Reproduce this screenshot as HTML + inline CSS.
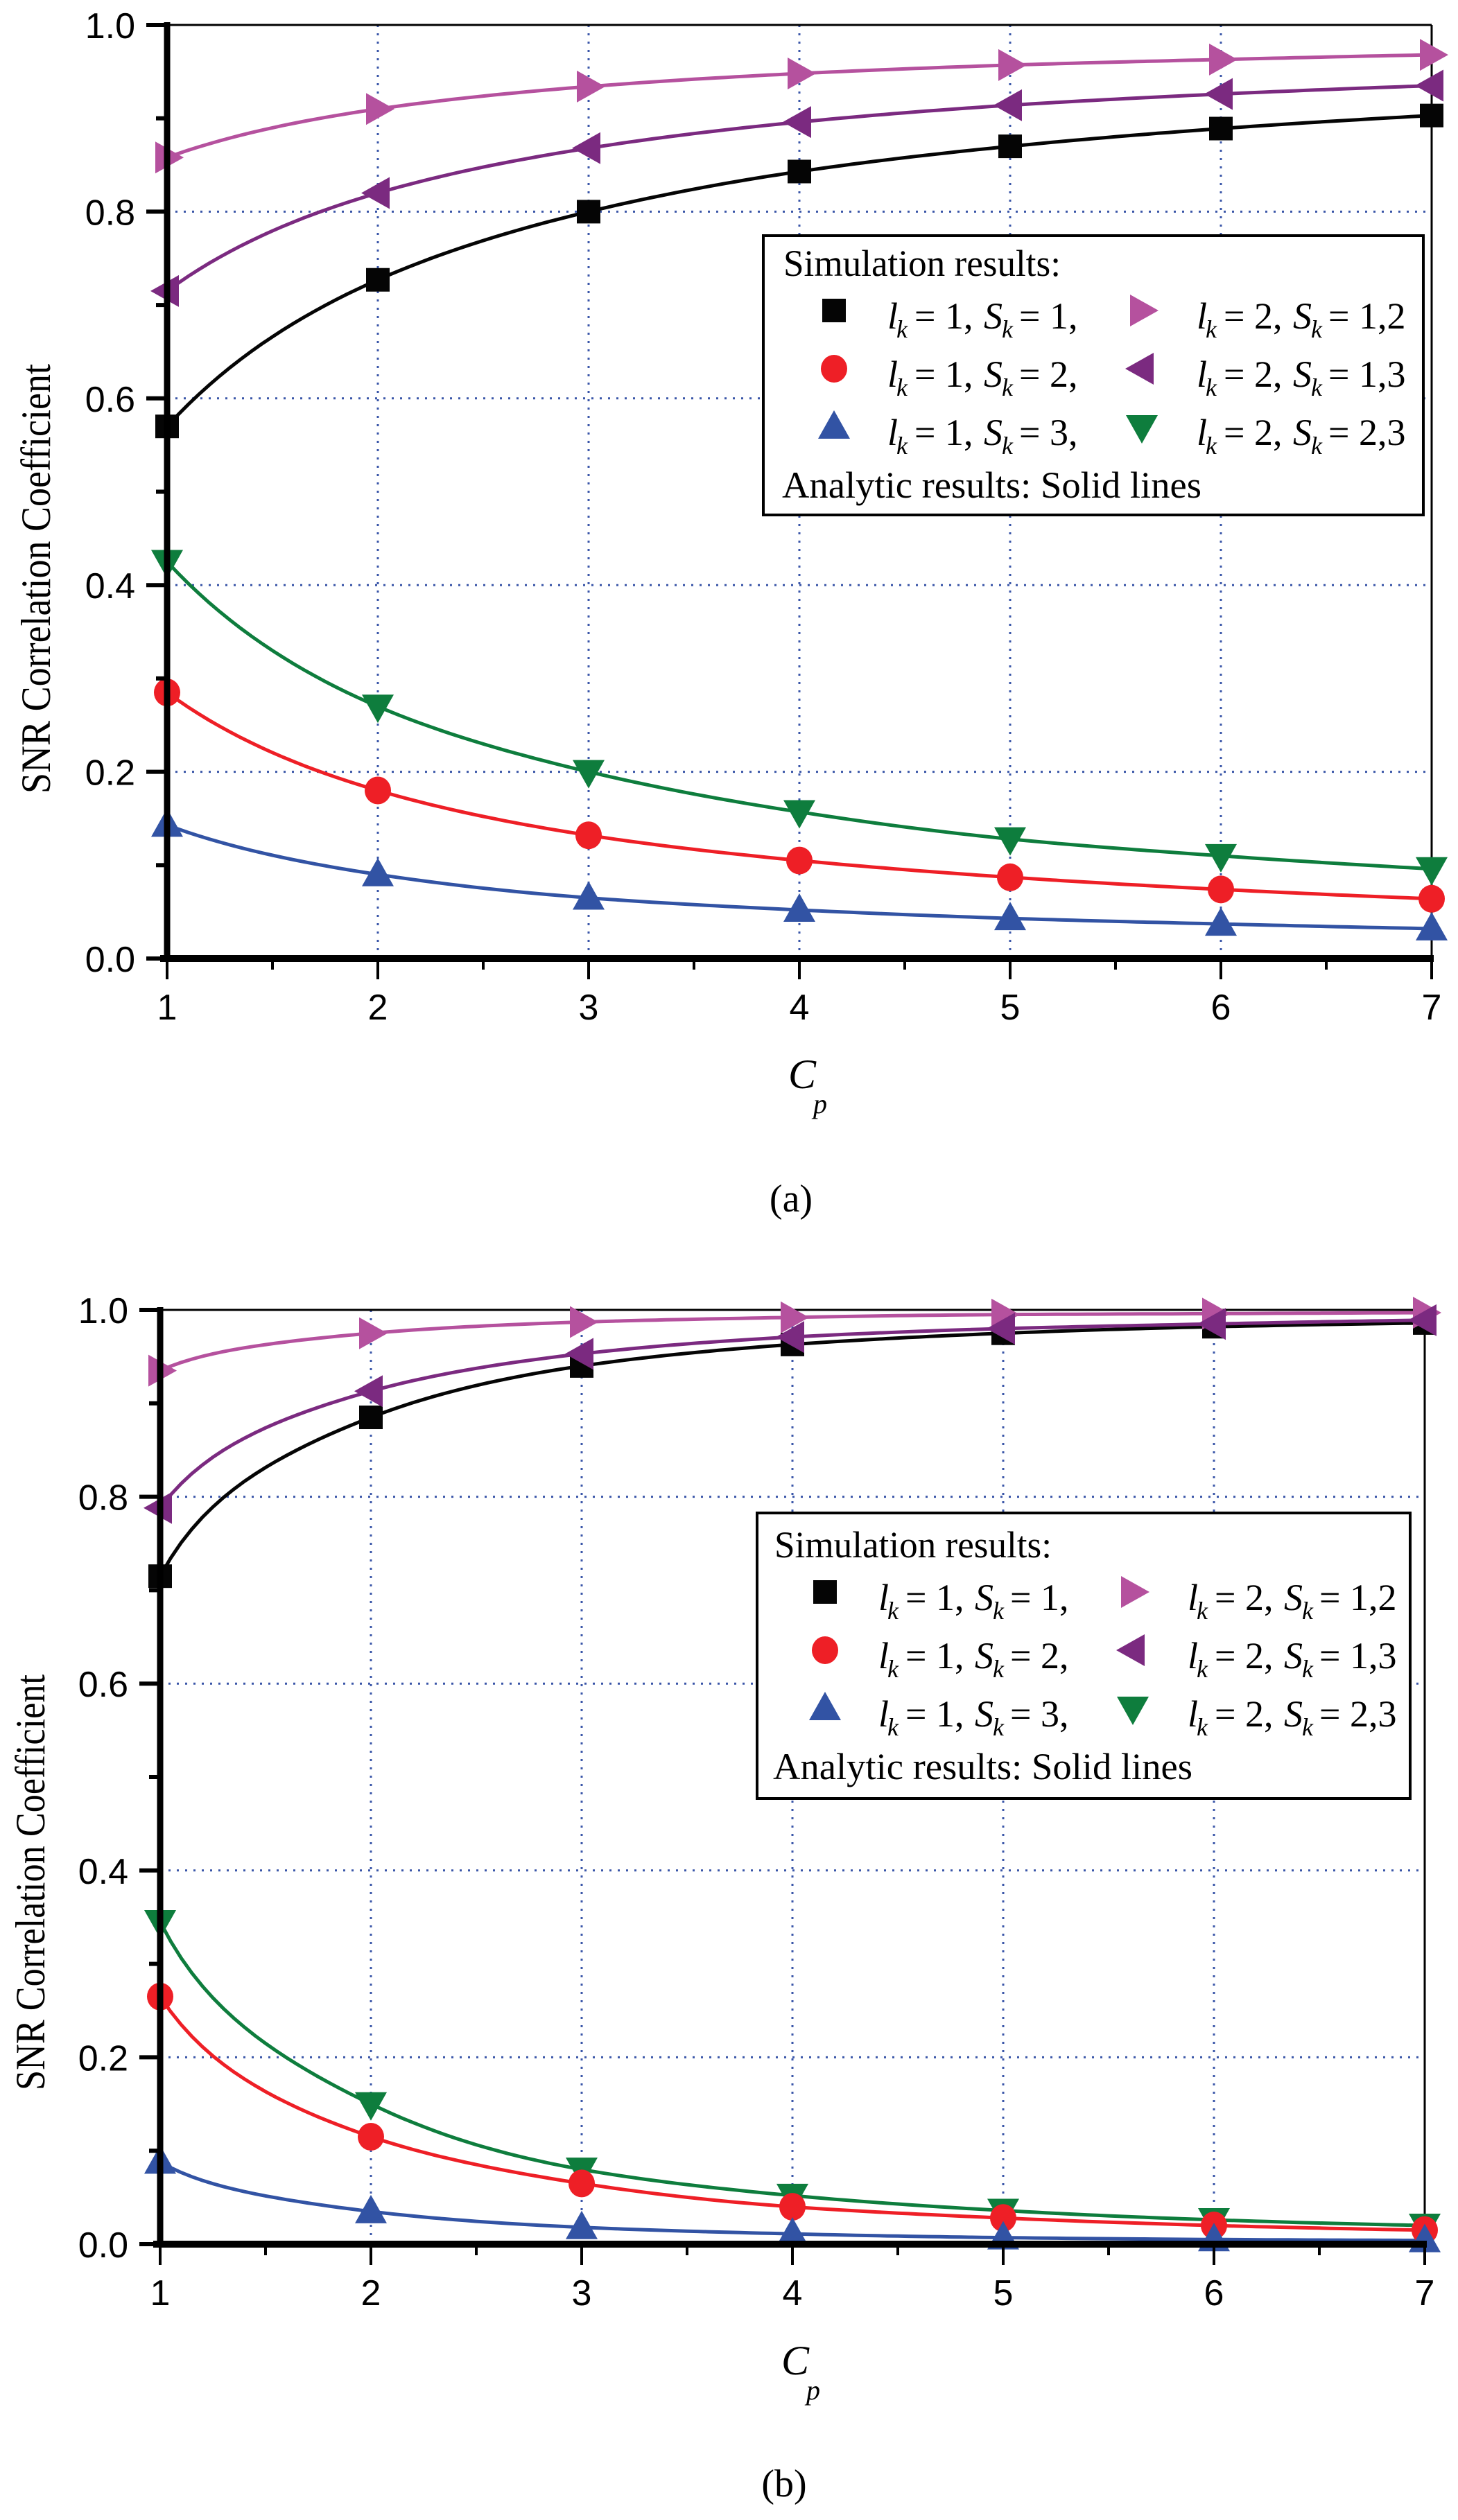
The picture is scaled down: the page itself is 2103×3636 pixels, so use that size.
<!DOCTYPE html>
<html><head><meta charset="utf-8"><style>
html,body{margin:0;padding:0;background:#fff;}
svg{display:block;}
.tl{font-family:"Liberation Sans",sans-serif;font-size:52px;fill:#000;}
.sf{font-family:"Liberation Serif",serif;fill:#000;}
</style></head><body>
<svg id="s" width="2103" height="3636" viewBox="0 0 2103 3636" xmlns="http://www.w3.org/2000/svg">
<rect width="2103" height="3636" fill="#fff"/>
<g id="g"></g>
</svg>
<script>
var G=document.getElementById('g');
var col={k:'#050505',pink:'#b5519e',pur:'#7b2a80',red:'#ee1f26',blue:'#3253a4',grn:'#0e7d3d'};
function mk(t,x,y,c){
 var s='';
 if(t=='sq')s='<rect x="'+(x-17)+'" y="'+(y-17)+'" width="34" height="34" fill="'+c+'"/>';
 if(t=='ci')s='<ellipse cx="'+x+'" cy="'+y+'" rx="19" ry="20" fill="'+c+'"/>';
 if(t=='up')s='<polygon points="'+x+','+(y-24)+' '+(x+23)+','+(y+17)+' '+(x-23)+','+(y+17)+'" fill="'+c+'"/>';
 if(t=='dn')s='<polygon points="'+x+','+(y+24)+' '+(x+23)+','+(y-17)+' '+(x-23)+','+(y-17)+'" fill="'+c+'"/>';
 if(t=='rt')s='<polygon points="'+(x+24)+','+y+' '+(x-17)+','+(y-23)+' '+(x-17)+','+(y+23)+'" fill="'+c+'"/>';
 if(t=='lt')s='<polygon points="'+(x-24)+','+y+' '+(x+17)+','+(y-23)+' '+(x+17)+','+(y+23)+'" fill="'+c+'"/>';
 return s;
}
function cr(a,i,t){var p0=a[i-1]!==undefined?a[i-1]:2*a[i]-a[i+1],p1=a[i],p2=a[i+1],p3=a[i+2]!==undefined?a[i+2]:2*a[i+1]-a[i];
 var t2=t*t,t3=t2*t;return 0.5*((2*p1)+(-p0+p2)*t+(2*p0-5*p1+4*p2-p3)*t2+(-p0+3*p1-3*p2+p3)*t3);}
function plot(P){
 var X=function(c){return P.x0+(c-1)*P.xu;},Y=function(v){return P.y0-v*P.yu;};
 var s='',xr=X(7),yt=Y(1);
 for(var i=2;i<=6;i++)s+='<line x1="'+X(i)+'" y1="'+yt+'" x2="'+X(i)+'" y2="'+P.y0+'" stroke="#3a56a8" stroke-width="3" stroke-dasharray="3 9"/>';
 for(var j=1;j<=4;j++)s+='<line x1="'+P.x0+'" y1="'+Y(j*0.2)+'" x2="'+xr+'" y2="'+Y(j*0.2)+'" stroke="#3a56a8" stroke-width="3" stroke-dasharray="3 9"/>';
 s+='<line x1="'+P.x0+'" y1="'+yt+'" x2="'+xr+'" y2="'+yt+'" stroke="#000" stroke-width="3"/>';
 s+='<line x1="'+xr+'" y1="'+yt+'" x2="'+xr+'" y2="'+P.y0+'" stroke="#000" stroke-width="3"/>';
 P.ser.forEach(function(S){
  var inc=S.v[6]>S.v[0];
  var tr=S.v.map(function(v){return inc?v/(1-v):1/v;});
  var d='';
  for(var i=0;i<6;i++)for(var k=0;k<=20;k++){if(i>0&&k==0)continue;
   var t=k/20,z=cr(tr,i,t),v=inc?z/(1+z):1/z;
   d+=(d?' L':'M')+X(1+i+t).toFixed(1)+','+Y(v).toFixed(1);}
  s+='<path d="'+d+'" fill="none" stroke="'+S.c+'" stroke-width="5"/>';
 });
 P.ser.forEach(function(S){S.v.forEach(function(v,i){s+=mk(S.m,X(i+1),Y(v),S.c);});});
 s+='<line x1="'+P.x0+'" y1="'+(yt-4)+'" x2="'+P.x0+'" y2="'+(P.y0+4)+'" stroke="#000" stroke-width="9"/>';
 s+='<line x1="'+(P.x0-10)+'" y1="'+P.y0+'" x2="'+(xr+3)+'" y2="'+P.y0+'" stroke="#000" stroke-width="10"/>';
 for(var k=0;k<=10;k++){var yy=Y(k*0.1),L=(k%2==0)?30:16;
  s+='<line x1="'+(P.x0-L)+'" y1="'+yy+'" x2="'+P.x0+'" y2="'+yy+'" stroke="#000" stroke-width="6"/>';
  if(k%2==0)s+='<text class="tl" x="'+(P.x0-46)+'" y="'+(yy+19)+'" text-anchor="end">'+(k/10).toFixed(1)+'</text>';}
 for(var k=0;k<=12;k++){var xx=P.x0+k*P.xu/2,L=(k%2==0)?30:16;
  s+='<line x1="'+xx+'" y1="'+P.y0+'" x2="'+xx+'" y2="'+(P.y0+L)+'" stroke="#000" stroke-width="4"/>';
  if(k%2==0)s+='<text class="tl" x="'+xx+'" y="'+(P.y0+88)+'" text-anchor="middle">'+(k/2+1)+'</text>';}
 s+='<text class="sf" font-size="60" transform="translate('+P.ylx+','+P.yly+') rotate(-90)" text-anchor="middle" textLength="'+P.yll+'" lengthAdjust="spacingAndGlyphs">SNR Correlation Coefficient</text>';
 var cx=(P.x0+xr)/2;
 s+='<text class="sf" font-size="60" font-style="italic" x="'+(cx-16)+'" y="'+P.cpy+'">C</text>';
 s+='<text class="sf" font-size="40" font-style="italic" x="'+(cx+20)+'" y="'+(P.cpy+36)+'">p</text>';
 s+='<text class="sf" font-size="56" x="'+(cx-12)+'" y="'+P.capy+'" text-anchor="middle">'+P.cap+'</text>';
 s+='<rect x="'+P.lb[0]+'" y="'+P.lb[1]+'" width="'+P.lb[2]+'" height="'+P.lb[3]+'" fill="#fff" stroke="#000" stroke-width="4"/>';
 s+='<g transform="translate('+P.lt[0]+','+P.lt[1]+')">';
 s+='<text class="sf" font-size="54" x="1130" y="398" textLength="400" lengthAdjust="spacingAndGlyphs">Simulation results:</text>';
 s+='<text class="sf" font-size="54" x="1128" y="718" textLength="605" lengthAdjust="spacingAndGlyphs">Analytic results:  Solid lines</text>';
 var rows=[[474,'1','1,','2','1,2','sq',col.k,'rt',col.pink],[558,'1','2,','2','1,3','ci',col.red,'lt',col.pur],[642,'1','3,','2','2,3','up',col.blue,'dn',col.grn]];
 rows.forEach(function(r){
  var b=r[0];
  [[1280,r[1],r[2]],[1726,r[3],r[4]]].forEach(function(q){var x=q[0];
   s+='<text class="sf" font-size="54" font-style="italic" x="'+x+'" y="'+b+'">l</text>';
   s+='<text class="sf" font-size="36" font-style="italic" x="'+(x+13)+'" y="'+(b+13)+'">k</text>';
   s+='<text class="sf" font-size="54" x="'+(x+39)+'" y="'+b+'">= '+q[1]+',</text>';
   s+='<text class="sf" font-size="54" font-style="italic" x="'+(x+139)+'" y="'+b+'">S</text>';
   s+='<text class="sf" font-size="36" font-style="italic" x="'+(x+165)+'" y="'+(b+13)+'">k</text>';
   s+='<text class="sf" font-size="54" x="'+(x+190)+'" y="'+b+'">= '+q[2]+'</text>';
  });
  s+=mk(r[5],1203,b-26,r[6]);s+=mk(r[7],1647,b-26,r[8]);
 });
 s+='</g>';
 return s;
}
var A={x0:241,xu:304,y0:1383,yu:1347,ylx:72,yly:835,yll:620,cpy:1570,capy:1748,cap:'(a)',lb:[1101,340,952,403],lt:[0,0],
ser:[{m:'sq',c:col.k,v:[0.57,0.727,0.80,0.843,0.870,0.889,0.903]},
{m:'rt',c:col.pink,v:[0.858,0.910,0.934,0.948,0.957,0.963,0.968]},
{m:'lt',c:col.pur,v:[0.715,0.82,0.868,0.896,0.914,0.926,0.935]},
{m:'dn',c:col.grn,v:[0.425,0.27,0.20,0.157,0.128,0.11,0.096]},
{m:'ci',c:col.red,v:[0.285,0.18,0.132,0.105,0.087,0.074,0.064]},
{m:'up',c:col.blue,v:[0.143,0.09,0.065,0.052,0.043,0.037,0.032]}]};
var B={x0:231,xu:304,y0:3238,yu:1348,ylx:64,yly:2716,yll:600,cpy:3426,capy:3602,cap:'(b)',lb:[1092,2183,942,412],lt:[-13,1849],
ser:[{m:'sq',c:col.k,v:[0.715,0.885,0.94,0.963,0.975,0.982,0.986]},
{m:'rt',c:col.pink,v:[0.935,0.975,0.987,0.992,0.995,0.996,0.997]},
{m:'lt',c:col.pur,v:[0.788,0.913,0.953,0.971,0.98,0.985,0.989]},
{m:'dn',c:col.grn,v:[0.345,0.15,0.08,0.052,0.036,0.026,0.02]},
{m:'ci',c:col.red,v:[0.265,0.115,0.065,0.04,0.028,0.02,0.015]},
{m:'up',c:col.blue,v:[0.088,0.035,0.018,0.011,0.007,0.005,0.004]}]};
G.innerHTML=plot(A)+plot(B);
</script>
</body></html>
